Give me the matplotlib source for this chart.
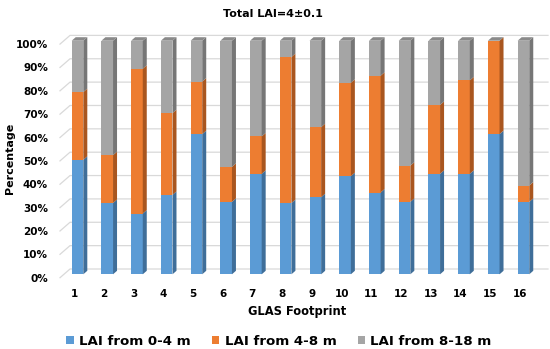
"""Stacked 3D-style column chart of LAI share per GLAS footprint."""

import matplotlib
matplotlib.use("Agg")
import matplotlib.pyplot as plt
from matplotlib.patches import Polygon
import numpy as np

plt.rcParams["font.family"] = ["DejaVu Sans"]
plt.rcParams["font.weight"] = "bold"

footprints = [str(i) for i in range(1, 17)]
lai_0_4 = [49, 30.5, 26, 34, 60, 31, 43, 30.5, 33, 42, 35, 31, 43, 43, 60, 31]
lai_4_8 = [29, 20.5, 62, 35, 22.5, 15, 16, 62.5, 30, 40, 50, 15.5, 29.5, 40, 40, 7]
lai_8_18 = [22, 49, 12, 31, 17.5, 54, 41, 7, 37, 18, 15, 53.5, 27.5, 17, 0, 62]
series_labels = ["LAI from 0-4 m", "LAI from 4-8 m", "LAI from 8-18 m"]
y_ticks = list(range(0, 101, 10))

front_colors = ["#5B9BD5", "#ED7D31", "#A5A5A5"]
side_colors = ["#3F6E99", "#A9561F", "#767676"]
top_color = "#8A8A8A"
grid_color = "#D9D9D9"

W, H = 550, 349
fig = plt.figure(figsize=(W / 100, H / 100), dpi=100)

# axes placed in pixels so the 3D offsets can be given in pixels too
ax_l, ax_r, ax_t, ax_b = 57, 549, 30, 282
ax = fig.add_axes([ax_l / W, 1 - ax_b / H, (ax_r - ax_l) / W, (ax_b - ax_t) / H])

px_per_bar = 29.73
px_per_pct = 2.336
x0_px = 77.5
y0_px = 274.3
y100_px = y0_px - 100 * px_per_pct
ax.set_xlim(1 - (x0_px - ax_l) / px_per_bar, 1 + (ax_r - x0_px) / px_per_bar)
ax.set_ylim(-(ax_b - y0_px) / px_per_pct, 100 + (y100_px - ax_t) / px_per_pct)


def dxp(px):
    return px / px_per_bar


def dyp(px):
    return px / px_per_pct


x = np.arange(1, len(footprints) + 1)
bar_w = dxp(11.6)
depth_x, depth_y = dxp(4), dyp(3.5)

# back wall gridlines with the slanted left wall
for v in y_ticks:
    xs = [1 + dxp(60 - x0_px), 1 + dxp(70 - x0_px), 1 + dxp(548 - x0_px)]
    ys = [v - dyp(3.4), v + dyp(5.3), v + dyp(5.3)]
    ax.plot(xs, ys, color=grid_color, lw=0.9, zorder=1, clip_on=False)

bottoms = np.zeros(len(footprints))
for vals, label, fc, sc in zip([lai_0_4, lai_4_8, lai_8_18], series_labels, front_colors, side_colors):
    vals = np.array(vals, dtype=float)
    ax.bar(x, vals, bar_w, bottom=bottoms, color=fc, label=label, zorder=3, linewidth=0)
    for xi, b, v in zip(x, bottoms, vals):
        if v <= 0:
            continue
        xr = xi + bar_w / 2
        side = Polygon(
            [(xr, b), (xr + depth_x, b + depth_y), (xr + depth_x, b + v + depth_y), (xr, b + v)],
            closed=True, facecolor=sc, edgecolor="none", zorder=3,
        )
        ax.add_patch(side)
    bottoms = bottoms + vals

for xi, top in zip(x, bottoms):
    xl, xr = xi - bar_w / 2, xi + bar_w / 2
    ax.add_patch(Polygon(
        [(xl, top), (xr, top), (xr + depth_x, top + depth_y), (xl + depth_x, top + depth_y)],
        closed=True, facecolor=top_color, edgecolor="none", zorder=4,
    ))

for s in ax.spines.values():
    s.set_visible(False)

ax.set_yticks([v - dyp(3.4) for v in y_ticks])
ax.set_yticklabels([f"{v}%" for v in y_ticks], fontsize=7.5, fontweight="bold")
ax.set_xticks(x - dxp(3.5))
ax.set_xticklabels(footprints, fontsize=7.5, fontweight="bold")
ax.tick_params(axis="both", length=0)
ax.tick_params(axis="y", pad=6.5)
ax.tick_params(axis="x", pad=5.3)

fig.text(273 / W, 1 - 14 / H, "Total LAI=4\u00b10.1", ha="center", va="center",
         fontsize=8, fontweight="bold")
fig.text(297 / W, 1 - 311 / H, "GLAS Footprint", ha="center", va="center",
         fontsize=8.3, fontweight="bold")
fig.text(10 / W, 1 - 158 / H, "Percentage", ha="center", va="center", rotation=90,
         fontsize=8, fontweight="bold")

fig.legend(loc="center", bbox_to_anchor=(279 / W, 1 - 341.5 / H), ncol=3, frameon=False,
           prop={"weight": "bold", "size": 9.6},
           handlelength=0.55, handleheight=0.55, handletextpad=0.4, columnspacing=1.6,
           borderpad=0, borderaxespad=0)

fig.savefig("out.png", dpi=100)
